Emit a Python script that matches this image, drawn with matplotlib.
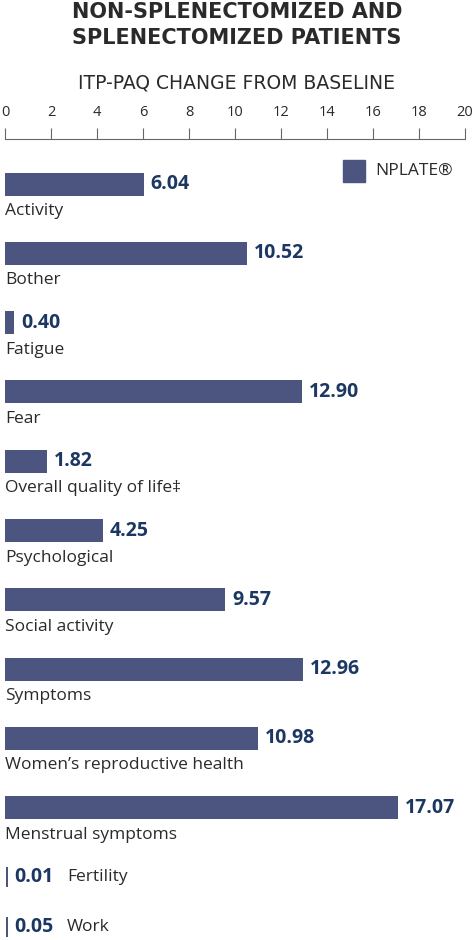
import matplotlib
matplotlib.use("Agg")
import matplotlib.pyplot as plt
from matplotlib.patches import Rectangle

categories = ["Activity", "Bother", "Fatigue", "Fear", "Overall quality of life\u2021",
              "Psychological", "Social activity", "Symptoms",
              "Women\u2019s reproductive health", "Menstrual symptoms", "Fertility", "Work"]
values = [6.04, 10.52, 0.40, 12.90, 1.82, 4.25, 9.57, 12.96, 10.98, 17.07, 0.01, 0.05]
ticks = [0, 2, 4, 6, 8, 10, 12, 14, 16, 18, 20]

W, H = 474, 940
fig = plt.figure(figsize=(W/100, H/100), dpi=100)
plt.rcParams['font.family'] = ['Open Sans', 'DejaVu Sans']
bar_c = "#4b5580"
val_c = "#1d3763"
txt_c = "#2a2a2a"

x0, x1 = 5, 465
ax = fig.add_axes([x0/W, 0, (x1-x0)/W, 1-139/H])
ax.set_xlim(0, 20)
ax.set_ylim(H, 139)
for s in ["left", "right", "bottom"]:
    ax.spines[s].set_visible(False)
ax.spines["top"].set_color("#666666")
ax.xaxis.tick_top()
ax.set_xticks(ticks)
ax.set_xticklabels([str(t) for t in ticks], fontsize=10.5, color=txt_c)
ax.tick_params(axis="x", length=8, color="#666666", pad=6)
ax.set_yticks([])

centers = [184 + 69.3*i for i in range(10)] + [877, 927]
for i, (c, v, y) in enumerate(zip(categories, values, centers)):
    if i < 10:
        ax.barh(y, v, height=23, color=bar_c, left=0)
        ax.text(v + 0.3, y, f"{v:.2f}", va="center", ha="left", fontsize=14,
                fontweight="bold", color=val_c)
        ax.text(0.02, y + 27, c, va="center", ha="left", fontsize=12.5, color=txt_c)
    else:
        ax.barh(y, max(v, 0.1), height=20, color=bar_c, left=0.05)
        ax.text(0.4, y, f"{v:.2f}", va="center", ha="left", fontsize=14,
                fontweight="bold", color=val_c)
        ax.text(2.7, y, c, va="center", ha="left", fontsize=12.5, color=txt_c)

fig.patches.append(Rectangle((343/W, 1-182/H), 22/W, 22/H, transform=fig.transFigure,
                             color=bar_c))
fig.text(375/W, 1-171/H, "NPLATE\u00ae", fontsize=12.5, color=txt_c, va="center")

fig.text(0.5, 1-12/H, "NON-SPLENECTOMIZED AND", ha="center", va="center",
         fontsize=15, fontweight="bold", color=txt_c, family=['DejaVu Sans'])
fig.text(0.5, 1-38/H, "SPLENECTOMIZED PATIENTS", ha="center", va="center",
         fontsize=15, fontweight="bold", color=txt_c, family=['DejaVu Sans'])
fig.text(0.5, 1-83/H, "ITP-PAQ CHANGE FROM BASELINE", ha="center", va="center",
         fontsize=13.5, color=txt_c, family=['DejaVu Sans'])

fig.savefig("out.png", dpi=100, facecolor="white")
